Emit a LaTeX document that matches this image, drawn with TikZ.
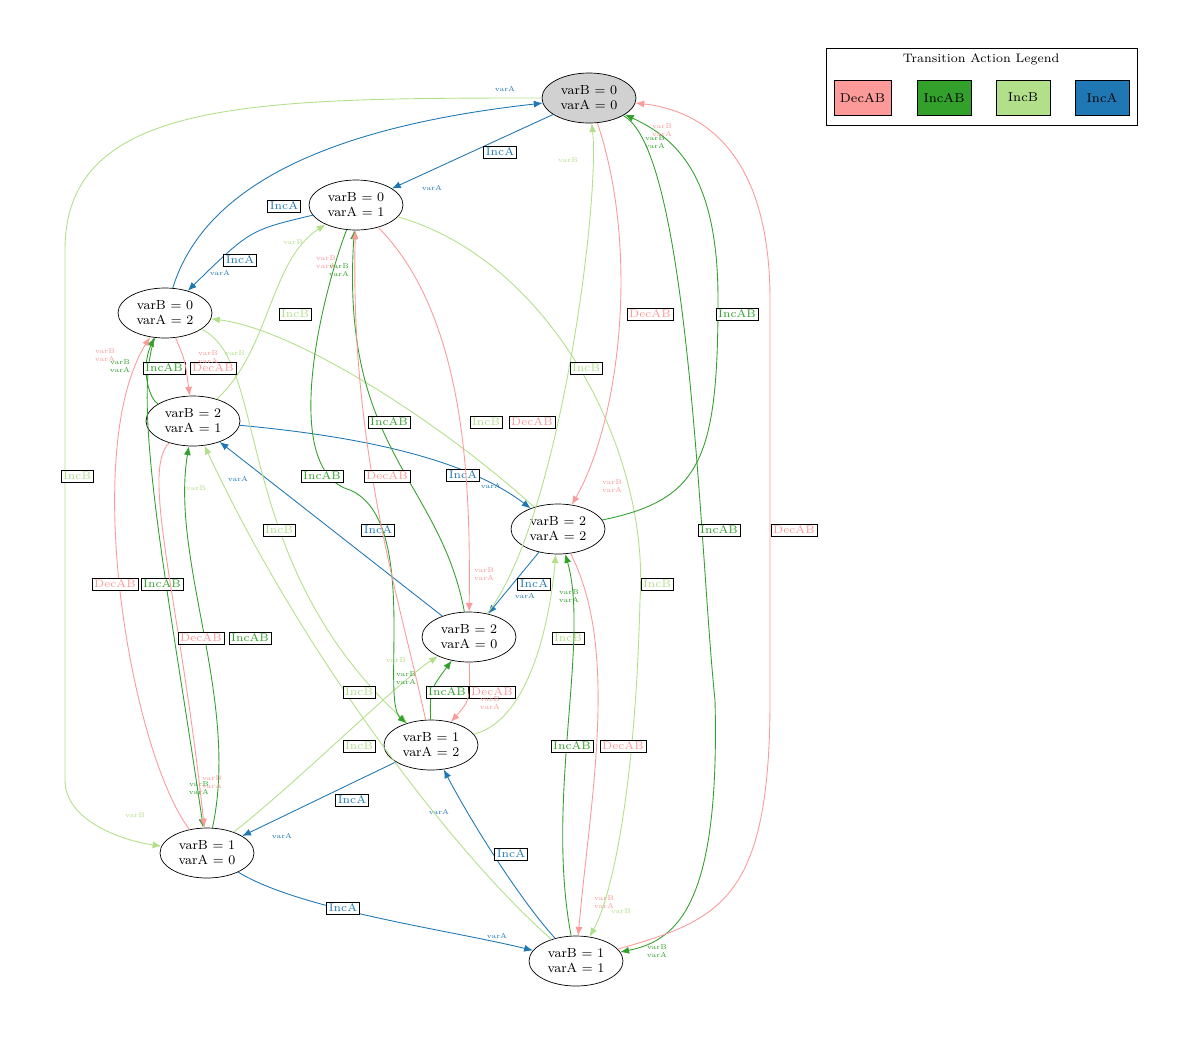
\documentclass[tikz,border=0pt]{standalone}
\usetikzlibrary{shapes.geometric,arrows.meta}
\definecolor{cdec}{HTML}{FB9A99}
\definecolor{cab}{HTML}{33A02C}
\definecolor{cb}{HTML}{B2DF8A}
\definecolor{ca}{HTML}{1F78B4}
\begin{document}
\begin{tikzpicture}[x=0.02cm,y=-0.02cm,
 st/.style={ellipse,draw,minimum width=1.88cm,minimum height=1cm,inner sep=0pt,align=center,font=\fontsize{7.5}{8.5}\selectfont},
 lab/.style={draw=black,fill=white,inner sep=1.2pt,font=\fontsize{6.3}{7}\selectfont},
 hl/.style={font=\fontsize{4}{4.6}\selectfont,align=center,inner sep=0pt},
 e/.style={-{Latex[length=5pt,width=4pt]},line width=0.5pt},
 leg/.style={draw,minimum width=1.08cm,minimum height=0.7cm,font=\fontsize{7.3}{8}\selectfont}]
\useasboundingbox (0,0) rectangle (1185,1045);
% nodes
\node[st,fill=black!18] (s00) at (589,98) {varB = 0\\varA = 0};
\node[st] (s01) at (356,205) {varB = 0\\varA = 1};
\node[st] (s02) at (165,313) {varB = 0\\varA = 2};
\node[st] (s21) at (193,421) {varB = 2\\varA = 1};
\node[st] (s22) at (558,529) {varB = 2\\varA = 2};
\node[st] (s20) at (469,637) {varB = 2\\varA = 0};
\node[st] (s12) at (431,745) {varB = 1\\varA = 2};
\node[st] (s10) at (207,853) {varB = 1\\varA = 0};
\node[st] (s11) at (576,961) {varB = 1\\varA = 1};
% legend
\node[draw,minimum width=6.22cm,minimum height=1.54cm] (legbox) at (981.5,86.5) {};
\node[font=\fontsize{7}{8}\selectfont] (legt) at (981,59) {Transition Action Legend};
\node[leg,fill=cdec] (l1) at (862.5,97.5) {DecAB};
\node[leg,fill=cab] (l2) at (944,97.5) {IncAB};
\node[leg,fill=cb] (l3) at (1023,97.5) {IncB};
\node[leg,fill=ca] (l4) at (1102,97.5) {IncA};
% IncA
\begin{scope}[ca]
\draw[e] (s00) -- (s01);
\draw[e] (s01) .. controls (250,230) .. (s02);
\draw[e] (s02) .. controls (200,200) and (300,130) .. (s00);
\draw[e] (s21) .. controls (400,440) and (480,470) .. (s22);
\draw[e] (s22) -- (s20);
\draw[e] (s20) -- (s21);
\draw[e] (s10) .. controls (300,910) and (450,930) .. (s11);
\draw[e] (s11) .. controls (520,900) and (470,820) .. (s12);
\draw[e] (s12) -- (s10);
\node[lab] (a1) at (500,152) {IncA};
\node[lab] (a2) at (240,260) {IncA};
\node[lab] (a3) at (284,206) {IncA};
\node[lab] (a4) at (463,475) {IncA};
\node[lab] (a5) at (534,584) {IncA};
\node[lab] (a6) at (378,530) {IncA};
\node[lab] (a7) at (343,908) {IncA};
\node[lab] (a8) at (511,854) {IncA};
\node[lab] (a9) at (352,800) {IncA};
\node[hl] (h1) at (432,188) {varA};
\node[hl] (h2) at (220,273) {varA};
\node[hl] (h3) at (505,89) {varA};
\node[hl] (h4) at (491,486) {varA};
\node[hl] (h5) at (525,596) {varA};
\node[hl] (h6) at (238,479) {varA};
\node[hl] (h7) at (497,936) {varA};
\node[hl] (h8) at (439,812) {varA};
\node[hl] (h9) at (282,836) {varA};
\end{scope}
% IncB
\begin{scope}[cb]
\draw[e] (s00) .. controls (250,98) and (65,100) .. (65,250) -- (65,780) .. controls (65,820) and (120,840) .. (s10);
\draw[e] (s10) .. controls (300,780) and (400,680) .. (s20);
\draw[e] (s20) .. controls (560,520) and (600,200) .. (s00);
\draw[e] (s01) .. controls (550,260) and (650,450) .. (640,600) .. controls (635,800) and (610,900) .. (s11);
\draw[e] (s11) .. controls (450,850) and (300,650) .. (s21);
\draw[e] (s21) .. controls (270,350) and (270,260) .. (s01);
\draw[e] (s02) .. controls (270,360) and (230,560) .. (s12);
\draw[e] (s12) .. controls (530,720) and (550,620) .. (s22);
\draw[e] (s22) .. controls (450,430) and (300,330) .. (s02);
\node[lab] (b1) at (77,476) {IncB};
\node[lab] (b2) at (359,692) {IncB};
\node[lab] (b3) at (586,368) {IncB};
\node[lab] (b4) at (657,584) {IncB};
\node[lab] (b5) at (279,530) {IncB};
\node[lab] (b6) at (295,314) {IncB};
\node[lab] (b7) at (359,746) {IncB};
\node[lab] (b8) at (568,638) {IncB};
\node[lab] (b9) at (486,422) {IncB};
\node[hl] (g1) at (135,815) {varB};
\node[hl] (g2) at (396,660) {varB};
\node[hl] (g3) at (568,160) {varB};
\node[hl] (g4) at (621,911) {varB};
\node[hl] (g5) at (196,488) {varB};
\node[hl] (g6) at (293,242) {varB};
\node[hl] (g7) at (235,353) {varB};
\end{scope}
% IncAB
\begin{scope}[cab]
\draw[e] (s00) .. controls (690,150) and (700,560) .. (715,700) .. controls (720,900) and (680,940) .. (s11);
\draw[e] (s22) .. controls (700,500) and (718,460) .. (718,300) .. controls (718,180) and (680,140) .. (s00);
\draw[e] (s11) .. controls (545,800) and (590,640) .. (s22);
\draw[e] (s01) .. controls (320,300) and (280,470) .. (350,490) .. controls (420,520) and (380,700) .. (s12);
\draw[e] (s12) .. controls (430,690) .. (s20);
\draw[e] (s20) .. controls (440,480) and (340,450) .. (s01);
\draw[e] (s02) .. controls (130,400) and (170,600) .. (s10);
\draw[e] (s10) .. controls (240,700) and (170,560) .. (s21);
\draw[e] (s21) .. controls (150,400) and (140,370) .. (s02);
\node[lab] (c1) at (719,530) {IncAB};
\node[lab] (c2) at (572,746) {IncAB};
\node[lab] (c3) at (737,314) {IncAB};
\node[lab] (c4) at (322,476) {IncAB};
\node[lab] (c5) at (447,692) {IncAB};
\node[lab] (c6) at (389,422) {IncAB};
\node[lab] (c7) at (162,584) {IncAB};
\node[lab] (c8) at (250,638) {IncAB};
\node[lab] (c9) at (164,368) {IncAB};
\node[hl] (k1) at (657,951) {varB\\varA};
\node[hl] (k2) at (569,596) {varB\\varA};
\node[hl] (k3) at (655,142) {varB\\varA};
\node[hl] (k4) at (406,678) {varB\\varA};
\node[hl] (k5) at (339,270) {varB\\varA};
\node[hl] (k6) at (120,366) {varB\\varA};
\node[hl] (k7) at (199,788) {varB\\varA};
\end{scope}
% DecAB
\begin{scope}[cdec]
\draw[e] (s00) .. controls (640,250) and (620,420) .. (s22);
\draw[e] (s22) .. controls (620,650) and (590,800) .. (s11);
\draw[e] (s11) .. controls (720,920) and (770,900) .. (770,700) -- (770,300) .. controls (770,150) and (700,110) .. (s00);
\draw[e] (s01) .. controls (470,320) and (470,500) .. (s20);
\draw[e] (s20) .. controls (470,700) .. (s12);
\draw[e] (s12) .. controls (400,600) and (350,450) .. (s01);
\draw[e] (s02) .. controls (185,360) .. (s21);
\draw[e] (s21) .. controls (140,470) and (180,600) .. (s10);
\draw[e] (s10) .. controls (130,750) and (80,450) .. (s02);
\node[lab] (d1) at (650,314) {DecAB};
\node[lab] (d2) at (623,746) {DecAB};
\node[lab] (d3) at (794,530) {DecAB};
\node[lab] (d4) at (532,422) {DecAB};
\node[lab] (d5) at (492,692) {DecAB};
\node[lab] (d6) at (387,476) {DecAB};
\node[lab] (d7) at (213,368) {DecAB};
\node[lab] (d8) at (201,638) {DecAB};
\node[lab] (d9) at (115,584) {DecAB};
\node[hl] (m1) at (612,486) {varB\\varA};
\node[hl] (m2) at (604,902) {varB\\varA};
\node[hl] (m3) at (662,130) {varB\\varA};
\node[hl] (m4) at (484,574) {varB\\varA};
\node[hl] (m5) at (490,703) {varB\\varA};
\node[hl] (m6) at (326,262) {varB\\varA};
\node[hl] (m7) at (208,357) {varB\\varA};
\node[hl] (m8) at (212,782) {varB\\varA};
\node[hl] (m9) at (105,355) {varB\\varA};
\end{scope}
\end{tikzpicture}
\end{document}
